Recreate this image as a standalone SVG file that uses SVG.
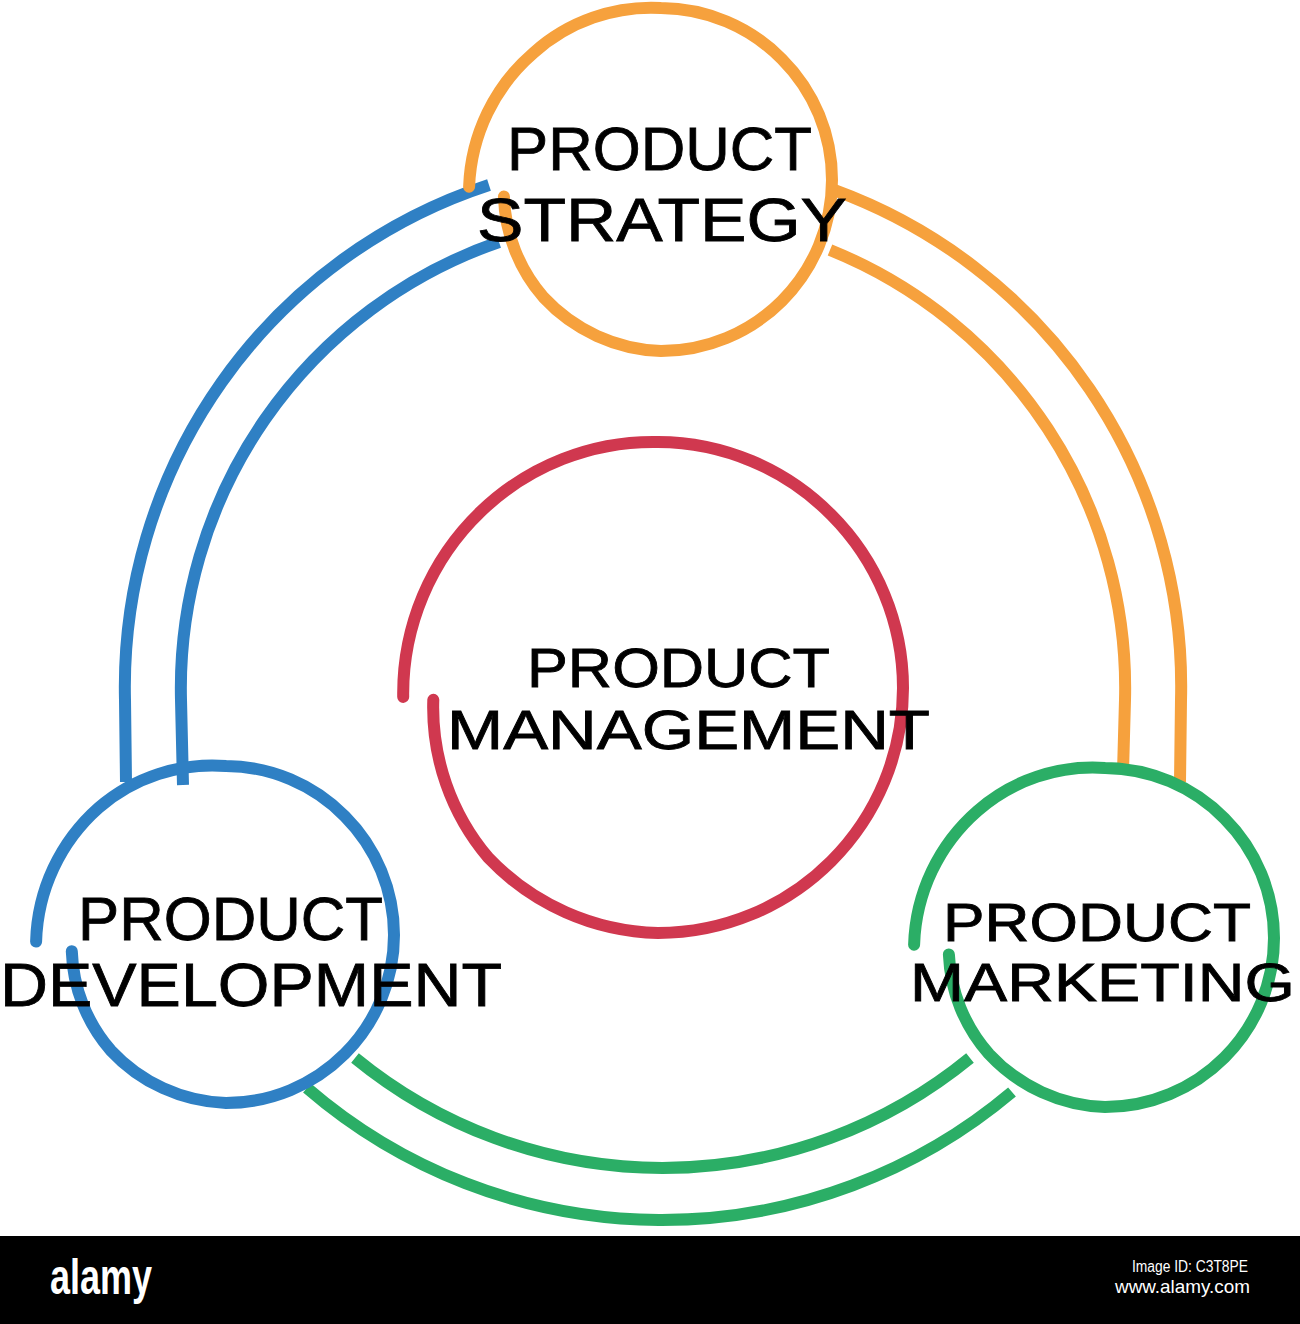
<svg xmlns="http://www.w3.org/2000/svg" width="1300" height="1324" viewBox="0 0 1300 1324">
<style>
.ring{fill:none;stroke-width:12;stroke-linecap:round;stroke-linejoin:round}
.conn{fill:none;stroke-width:12;stroke-linecap:butt}
.orange{stroke:#F6A13D}
.blue{stroke:#2F80C4}
.green{stroke:#2BAE66}
.red{stroke:#D0384F}
.lbl{font-family:"Liberation Sans",Arial,sans-serif;font-size:62px;fill:#000;stroke:#000;stroke-width:0.8}
.foot{font-family:"Liberation Sans",Arial,sans-serif;fill:#fff}
</style>
<rect x="0" y="0" width="1300" height="1324" fill="#fff"/>
<g id="connectors">
<path class="conn blue" d="M489,185 A528,528 0 0 0 125,700 L126,782"/>
<path class="conn blue" d="M499,242 A472,472 0 0 0 181,700 L183,785"/>
<path class="conn orange" d="M834,190 A528,528 0 0 1 1181,700 L1180,782"/>
<path class="conn orange" d="M830,250 A472,472 0 0 1 1125,700 L1123,772"/>
<path class="conn green" d="M307,1088 A543,543 0 0 0 1012,1092"/>
<path class="conn green" d="M355,1058 A485,485 0 0 0 970,1058"/>
</g>
<g id="node-strategy">
<path class="ring orange" d="M469.1,186.7 A186,186 0 0 1 533.7,52.7 A176,176 0 0 1 661,8 A171,171 0 0 1 781.9,59.1 A171,171 0 0 1 832,180 A171,171 0 0 1 781.9,300.9 A171,171 0 0 1 661,351 A168,168 0 0 1 543.6,297.4 A162,162 0 0 1 503.9,196.5"/>
<text class="lbl" x="507" y="170" textLength="305" lengthAdjust="spacingAndGlyphs">PRODUCT</text>
<text class="lbl" x="477" y="241" textLength="370" lengthAdjust="spacingAndGlyphs">STRATEGY</text>
</g>
<g id="node-management">
<path class="ring red" d="M403.2,696.9 A252,252 0 0 1 481.2,511.2 A248,248 0 0 1 658,442 A245,245 0 0 1 831.2,514.8 A245,245 0 0 1 903,688 A245,245 0 0 1 831.2,861.2 A245,245 0 0 1 658,933 A242,242 0 0 1 488.3,857.7 A232,232 0 0 1 433.3,699.8"/>
<text class="lbl" x="527" y="687" font-size="55" style="font-size:55px" textLength="303" lengthAdjust="spacingAndGlyphs">PRODUCT</text>
<text class="lbl" x="447" y="749" font-size="55" style="font-size:55px" textLength="483" lengthAdjust="spacingAndGlyphs">MANAGEMENT</text>
</g>
<g id="node-development">
<path class="ring blue" d="M36.1,941.6 A185,185 0 0 1 98.7,807.7 A174,174 0 0 1 226,766 A168,168 0 0 1 344.8,816.2 A168,168 0 0 1 394,935 A168,168 0 0 1 344.8,1053.8 A168,168 0 0 1 226,1103 A165,165 0 0 1 110.7,1050.3 A159,159 0 0 1 71.8,951.2"/>
<text class="lbl" x="78" y="940" textLength="305" lengthAdjust="spacingAndGlyphs">PRODUCT</text>
<text class="lbl" x="0" y="1006" textLength="502" lengthAdjust="spacingAndGlyphs">DEVELOPMENT</text>
</g>
<g id="node-marketing">
<path class="ring green" d="M914.1,944.7 A185,185 0 0 1 977.7,810.7 A175,175 0 0 1 1105,768 A169,169 0 0 1 1224.5,818.5 A169,169 0 0 1 1274,938 A169,169 0 0 1 1224.5,1057.5 A169,169 0 0 1 1105,1107 A166,166 0 0 1 989,1054 A160,160 0 0 1 948.9,954.4"/>
<text class="lbl" x="943" y="941" style="font-size:53px" textLength="308" lengthAdjust="spacingAndGlyphs">PRODUCT</text>
<text class="lbl" x="910" y="1001" style="font-size:53px" textLength="385" lengthAdjust="spacingAndGlyphs">MARKETING</text>
</g>
<g id="footer">
<rect x="0" y="1236" width="1300" height="88" fill="#000"/>
<text class="foot" x="50" y="1294" font-size="50" font-weight="bold" textLength="102" lengthAdjust="spacingAndGlyphs">alamy</text>
<text class="foot" x="1132" y="1272" font-size="16" textLength="116" lengthAdjust="spacingAndGlyphs">Image ID: C3T8PE</text>
<text class="foot" x="1115" y="1293" font-size="19" textLength="135" lengthAdjust="spacingAndGlyphs">www.alamy.com</text>
</g>
</svg>
